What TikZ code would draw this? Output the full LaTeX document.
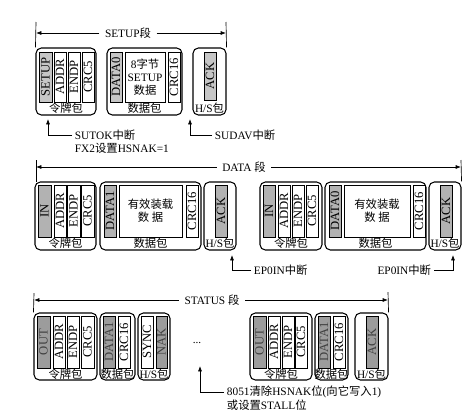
\documentclass[tikz,border=0pt]{standalone}
\usepackage{fontspec}
\setmainfont{Liberation Serif}
\newfontfamily\cjk{Noto Sans CJK SC}
\newcommand\zh[1]{{\cjk #1}}
\usetikzlibrary{arrows.meta}
\newcommand\pk[5]{\node[pkt, minimum width={(#3-#2)*0.75pt}, minimum height={(#5-#4)*0.75pt}] (#1) at ({(#2+#3)/2},{(#4+#5)/2}) {};}
\newcommand\vf[7]{\node[#6, rotate=90, minimum width={(#5-#4)*0.75pt}, minimum height={(#3-#2)*0.75pt}] (#1) at ({(#2+#3)/2},{(#4+#5)/2}) {#7};}
\newcommand\hf[7]{\node[#6, align=center, minimum width={(#3-#2)*0.75pt}, minimum height={(#5-#4)*0.75pt}] (#1) at ({(#2+#3)/2},{(#4+#5)/2}) {#7};}
\begin{document}
\begin{tikzpicture}[x=0.75pt,y=-0.75pt, font=\fontsize{8.5}{10}\selectfont,
 pkt/.style={draw, rounded corners=4pt, line width=0.8pt, inner sep=0},
 fld/.style={draw, line width=0.5pt, inner sep=0, fill=white, font=\fontsize{9.5}{10}\selectfont},
 midfld/.style={fld, font=\fontsize{8.5}{10}\selectfont},
 gfld/.style={fld, fill=gray!45},
 mfld/.style={fld, fill=gray!60},
 dfld/.style={fld, fill=gray!78, text=black!75},
 lbl/.style={inner sep=0},
 secline/.style={line width=0.5pt},
 seclbl/.style={inner sep=4pt},
 arr/.style={-{Latex[length=4pt,width=3pt]}, line width=0.5pt},
 ann/.style={inner sep=2pt, anchor=west},
]
\useasboundingbox (0,0) rectangle (474,415);

% ---------------- SETUP stage ----------------
\pk{sTok}{36}{96}{48}{115}
\vf{sTokPid}{39}{52}{52}{102}{gfld}{SETUP}
\vf{sTokAddr}{54}{66}{52}{102}{fld}{ADDR}
\vf{sTokEndp}{68}{80}{52}{102}{fld}{ENDP}
\vf{sTokCrc}{82}{94}{52}{102}{fld}{CRC5}
\node[lbl] (sTokL) at (66,108.5) {\zh{令牌包}};

\pk{sDat}{107}{182}{48}{115}
\vf{sDatPid}{110}{122}{52}{102}{gfld}{DATA0}
\hf{sDatMid}{125}{165}{52}{102}{midfld}{8\zh{字节}\\SETUP\\\zh{数据}}
\vf{sDatCrc}{168}{180}{52}{102}{fld}{CRC16}
\node[lbl] (sDatL) at (144.5,108.5) {\zh{数据包}};

\pk{sHs}{193}{226}{48}{115}
\vf{sHsAck}{204}{216}{52}{100}{gfld}{ACK}
\node[lbl] (sHsL) at (209.5,108.5) {H/S\zh{包}};

\coordinate (sL0) at (36,22);
\coordinate (sR0) at (226,22);
\coordinate (sLa) at (36,33);
\coordinate (sRa) at (226,33);
\draw[secline] (sL0) -- (sTok.north west);
\draw[secline] (sR0) -- (sHs.north east);
\node[seclbl] (setupL) at (128,33) {SETUP\zh{段}};
\draw[arr] (setupL.west) -- (sLa);
\draw[arr] (setupL.east) -- (sRa);

\node[ann] (sutok) at (72,135) {SUTOK\zh{中断}};
\node[ann] (fx2) at (72,148) {FX2\zh{设置}HSNAK=1};
\coordinate (sutokT) at (48,119);
\draw[arr] (sutok.west) -| (sutokT);

\node[ann] (sudav) at (212,135) {SUDAV\zh{中断}};
\coordinate (sudavT) at (190,119);
\draw[arr] (sudav.west) -| (sudavT);

% ---------------- DATA stage ----------------
\pk{dTok1}{35}{96}{182}{250}
\vf{dTok1Pid}{38}{51}{185}{237}{mfld}{IN}
\vf{dTok1Addr}{54}{66}{185}{237}{fld}{ADDR}
\vf{dTok1Endp}{67}{80}{185}{237}{fld}{ENDP}
\vf{dTok1Crc}{81}{94}{185}{237}{fld}{CRC5}
\node[lbl] (dTok1L) at (65.5,243.5) {\zh{令牌包}};

\pk{dDat1}{100}{201}{182}{250}
\vf{dDat1Pid}{104}{116}{185}{237}{mfld}{DATA1}
\hf{dDat1Mid}{119}{182}{185}{237}{midfld}{\zh{有效装载}\\\zh{数\ 据}}
\vf{dDat1Crc}{186}{198}{185}{237}{fld}{CRC16}
\node[lbl] (dDat1L) at (150.5,243.5) {\zh{数据包}};

\pk{dHs1}{204}{236}{182}{250}
\vf{dHs1Ack}{215}{227}{185}{237}{mfld}{ACK}
\node[lbl] (dHs1L) at (220,243.5) {H/S\zh{包}};

\pk{dTok2}{260}{322}{182}{250}
\vf{dTok2Pid}{263}{275}{185}{237}{mfld}{IN}
\vf{dTok2Addr}{278}{290}{185}{237}{fld}{ADDR}
\vf{dTok2Endp}{292}{304}{185}{237}{fld}{ENDP}
\vf{dTok2Crc}{306}{318}{185}{237}{fld}{CRC5}
\node[lbl] (dTok2L) at (291,243.5) {\zh{令牌包}};

\pk{dDat2}{325}{426}{182}{250}
\vf{dDat2Pid}{329}{341}{185}{237}{mfld}{DATA0}
\hf{dDat2Mid}{344}{410}{185}{237}{midfld}{\zh{有效装载}\\\zh{数\ 据}}
\vf{dDat2Crc}{413}{425}{185}{237}{fld}{CRC16}
\node[lbl] (dDat2L) at (375.5,243.5) {\zh{数据包}};

\pk{dHs2}{429}{461}{182}{250}
\vf{dHs2Ack}{440}{452}{185}{237}{mfld}{ACK}
\node[lbl] (dHs2L) at (445,243.5) {H/S\zh{包}};

\coordinate (dL0) at (36,160);
\coordinate (dR0) at (461,160);
\coordinate (dLa) at (36,167);
\coordinate (dRa) at (461,167);
\draw[secline] (dL0) -- (36,182);
\draw[secline] (dR0) -- (dHs2.north east);
\node[seclbl] (dataL) at (244,167) {DATA \zh{段}};
\draw[arr] (dataL.west) -- (dLa);
\draw[arr] (dataL.east) -- (dRa);

\node[ann] (ep1) at (251,270) {EP0IN\zh{中断}};
\coordinate (ep1T) at (232,255);
\draw[arr] (ep1.west) -| (ep1T);

\node[ann, anchor=east] (ep2) at (434,270) {EP0IN\zh{中断}};
\coordinate (ep2T) at (453,255);
\draw[arr] (ep2.east) -| (ep2T);

% ---------------- STATUS stage ----------------
\pk{tTok1}{34}{97}{313}{380}
\vf{tTok1Pid}{37}{50}{316}{368}{dfld}{OUT}
\vf{tTok1Addr}{53}{65}{316}{368}{fld}{ADDR}
\vf{tTok1Endp}{67}{79}{316}{368}{fld}{ENDP}
\vf{tTok1Crc}{81}{94}{316}{368}{fld}{CRC5}
\node[lbl] (tTok1L) at (65.5,374.5) {\zh{令牌包}};

\pk{tDat1}{100}{135}{313}{380}
\vf{tDat1Pid}{103}{115}{316}{368}{dfld}{DATA1}
\vf{tDat1Crc}{118}{130}{316}{368}{fld}{CRC16}
\node[lbl] (tDat1L) at (117.5,374.5) {\zh{数据包}};

\pk{tHs1}{138}{170}{313}{380}
\vf{tHs1Sync}{141}{153}{316}{368}{fld}{SYNC}
\vf{tHs1Pid}{156}{167}{316}{368}{dfld}{NAK}
\node[lbl] (tHs1L) at (154,374.5) {H/S\zh{包}};

\node[inner sep=0] (dots) at (197,343) {...};

\pk{tTok2}{250}{312}{313}{380}
\vf{tTok2Pid}{253}{266}{316}{368}{dfld}{OUT}
\vf{tTok2Addr}{268}{280}{316}{368}{fld}{ADDR}
\vf{tTok2Endp}{282}{294}{316}{368}{fld}{ENDP}
\vf{tTok2Crc}{295}{307}{316}{368}{fld}{CRC5}
\node[lbl] (tTok2L) at (281,374.5) {\zh{令牌包}};

\pk{tDat2}{315}{348}{313}{380}
\vf{tDat2Pid}{318}{330}{316}{368}{dfld}{DATA1}
\vf{tDat2Crc}{333}{345}{316}{368}{fld}{CRC16}
\node[lbl] (tDat2L) at (331.5,374.5) {\zh{数据包}};

\pk{tHs2}{355}{388}{313}{380}
\vf{tHs2Pid}{366}{378}{316}{368}{dfld}{ACK}
\node[lbl] (tHs2L) at (371.5,374.5) {H/S\zh{包}};

\coordinate (tL0) at (34,293);
\coordinate (tR0) at (388,292);
\coordinate (tLa) at (34,300);
\coordinate (tRa) at (388,300);
\draw[secline] (tL0) -- (tTok1.north west);
\draw[secline] (tR0) -- (tHs2.north east);
\node[seclbl] (statusL) at (212,300) {STATUS \zh{段}};
\draw[arr] (statusL.west) -- (tLa);
\draw[arr] (statusL.east) -- (tRa);

\node[ann] (n8051) at (224,392) {8051\zh{清除}HSNAK\zh{位}(\zh{向它写入}1)};
\node[ann] (stall) at (224,405) {\zh{或设置}STALL\zh{位}};
\coordinate (n8051T) at (200,366);
\draw[arr] (n8051.west) -| (n8051T);
\end{tikzpicture}
\end{document}
